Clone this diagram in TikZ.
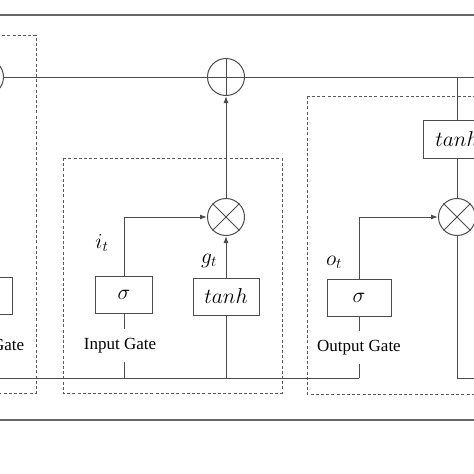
\RequirePackage{fix-cm}
\documentclass[tikz,border=0pt]{standalone}
\usepackage{fontspec}
\setmainfont{Liberation Serif}
\usepackage{tikz}
\usetikzlibrary{positioning,arrows.meta}

\tikzset{
  gatebox/.style={draw, minimum width=57pt, minimum height=37pt, inner sep=0pt},
  opcirc/.style={draw, circle, minimum size=37pt, inner sep=0pt},
  dashbox/.style={draw=black!65, dash pattern=on 3pt off 2.2pt, line width=0.9pt},
  gatelbl/.style={fill=white, inner xsep=2pt, inner ysep=9pt, font=\fontsize{17}{20}\selectfont},
  mathlbl/.style={font=\fontsize{21.5}{24}\selectfont}
}

\begin{document}
\begin{tikzpicture}[x=1pt, y=-1pt, line width=1pt, draw=black!70,
    >={Latex[length=7pt,width=5pt]}]
            \useasboundingbox (0,0) rectangle (474,474);
            \clip (0,0) rectangle (474,474);

            % frame
            \draw[black!60, line width=1.3pt] (0,15) -- (474,15);
            \draw[black!60, line width=1.3pt] (0,420) -- (474,420);

            % gate boxes
            \draw[dashbox] (-200,35) rectangle (36,393);
            \draw[dashbox] (63,158) rectangle (282,393);
            \draw[dashbox] (307,96) rectangle (520,394);

            \node[opcirc] (mulF) at (-15,77){};
            \node[opcirc] (addC) at (226,77){};
            \node[opcirc] (mulI) at (226,217){};
            \node[opcirc] (mulO) at (457,217){};

            \node[gatebox, mathlbl] (sigF) at (-16,295.5){$\sigma$};
            \node[gatebox, mathlbl] (sigI) at (124,294.5){$\sigma$};
            \node[gatebox, mathlbl, minimum width=66pt] (tanhI) at (226,296.5){$tanh$};
            \node[gatebox, mathlbl, minimum width=64pt] (sigO) at (359,298){$\sigma$};
            \node[gatebox, mathlbl, minimum width=68pt, minimum height=38pt] (tanhO) at (457,139){$tanh$};

            \node[mathlbl] (it) at (102,243){$i_t$};
            \node[mathlbl] (gt) at (209,261){$g_t$};
            \node[mathlbl] (ot) at (334,262){$o_t$};

            \coordinate (cellR) at (480,77);
            \coordinate (tapO) at (457,77);
            \coordinate (outR) at (480,378);
            \coordinate (busL) at (-60,378);
            \coordinate (busF) at (-16,378);
            \coordinate (busI) at (124,378);
            \coordinate (busT) at (226,378);
            \coordinate (busO) at (359,378);

            % plus and times signs
            \draw (addC.north) -- (addC.south);
            \draw (addC.west) -- (addC.east);
            \draw (mulF.north west) -- (mulF.south east);
            \draw (mulF.north east) -- (mulF.south west);
            \draw (mulI.north west) -- (mulI.south east);
            \draw (mulI.north east) -- (mulI.south west);
            \draw (mulO.north west) -- (mulO.south east);
            \draw (mulO.north east) -- (mulO.south west);

            % cell state
            \draw (mulF.east) -- (addC.west);
            \draw (addC.east) -- (cellR);
            \draw (tapO) -- (tanhO.north);
            \draw (tanhO.south) -- (mulO.north);
            \draw (mulO.south) |- (outR);

            % gates
            \draw[->] (mulI.north) -- (addC.south);
            \draw[->] (sigI.north) |- (mulI.west);
            \draw[->] (tanhI.north) -- (mulI.south);
            \draw[->] (sigO.north) |- (mulO.west);

            % input bus
            \draw (busL) -- (busO);
            \draw (busF) -- node[gatelbl]{Forget Gate} (sigF.south);
            \draw (busI) -- node[gatelbl, xshift=-4pt]{Input Gate} (sigI.south);
            \draw (busT) -- (tanhI.south);
            \draw (busO) -- node[gatelbl]{Output Gate} (sigO.south);
        \end{tikzpicture}
\end{document}
